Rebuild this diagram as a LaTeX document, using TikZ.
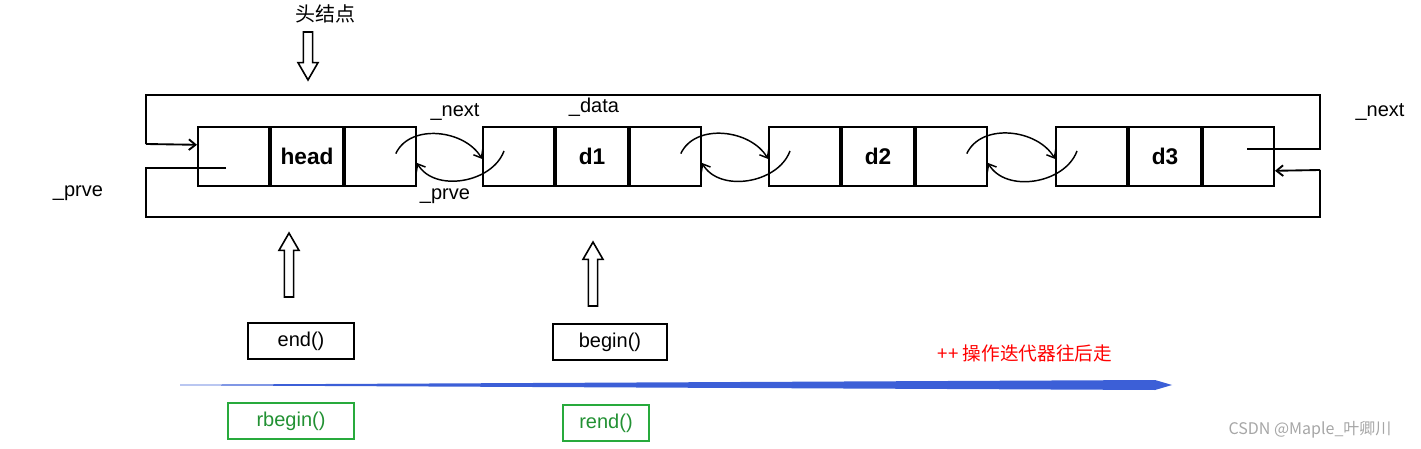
\documentclass[tikz,border=0pt]{standalone}
\usepackage{fontspec}
\setmainfont{Liberation Sans}
\newfontfamily\cjk{Noto Sans CJK SC}
\usetikzlibrary{shapes.arrows, arrows.meta, positioning}
\definecolor{flow}{RGB}{60,95,215}
\definecolor{iter}{RGB}{40,170,60}
\tikzset{
  cell/.style={draw, line width=1.4pt, minimum width=53.6pt, minimum height=44pt, inner sep=0pt, font=\bfseries\fontsize{17}{17}\selectfont},
  wire/.style={line width=1.4pt},
  link/.style={line width=1.1pt, -{Straight Barb[length=5pt,width=8pt]}},
  lbl/.style={font=\fontsize{15}{15}\selectfont},
  hollow/.style={single arrow, draw, line width=1.2pt, minimum width=15pt, single arrow head extend=2.5pt, single arrow tip angle=60, inner sep=1.5pt},
  fn/.style={draw, line width=1.3pt, font=\fontsize{15}{15}\selectfont, minimum height=27pt}
}
\begin{document}
\begin{tikzpicture}[x=0.75pt, y=-0.75pt]
\useasboundingbox (0,0) rectangle (1421,449);

% nodes of the list
\foreach \nm/\tx/\xx in {h/head/197, a/d1/482, b/d2/768, c/d3/1055} {
  \node[cell, anchor=north west] (\nm L) at (\xx,126) {};
  \node[cell, right=0pt of \nm L] (\nm M) {\tx};
  \node[cell, right=0pt of \nm M] (\nm R) {};
}

% curved links between neighbours
\foreach \p/\q in {h/a, a/b, b/c} {
  \draw[link] ([xshift=11.6pt,yshift=2pt]\p R.center) to[out=65, in=120] ([yshift=-2pt]\q L.west);
  \draw[link] ([xshift=-11pt,yshift=4pt]\q L.center) to[out=-110, in=-60] ([yshift=-5pt]\p R.east);
}

% ring wires
\coordinate (tl) at (146,95);
\coordinate (tr) at (1320,95);
\coordinate (bl) at (146,217);
\coordinate (br) at (1320,217);
\draw[wire] ([xshift=-21pt,yshift=5.6pt]cR.east) -| (tr) -- (tl) -- (146,144);
\draw[wire, -{Straight Barb[length=5pt,width=8pt]}] (146,144) -- ([yshift=8.6pt]hL.west);
\draw[wire] ([xshift=-5.6pt,yshift=-8.6pt]hL.center) -| (bl) -- (br) -- (1320,170);
\draw[wire, -{Straight Barb[length=5pt,width=8pt]}] (1320,170) -- ([yshift=-10.9pt]cR.east);

% labels
\node[lbl] (nx1) at (455,112) {\_next};
\node[lbl] (dt) at (594,107) {\_data};
\node[lbl] (pv1) at (445,196) {\_prve};
\node[lbl] (pv2) at (78,193) {\_prve};
\node[lbl] (nx2) at (1380,112) {\_next};

% head marker
\node[font=\cjk\fontsize{15}{15}\selectfont] (hd) at (325,14) {头结点};
\node[hollow, rotate=-90, minimum height=36pt] (hda) at (308,52) {};

% iterators
\node[hollow, rotate=90, minimum height=48pt] (ua) at (289,269) {};
\node[hollow, rotate=90, minimum height=48pt] (ub) at (593,278) {};
\node[fn, minimum width=80pt] (en) at (301,341) {end()};
\node[fn, minimum width=86pt] (bg) at (610,342) {begin()};
\node[fn, draw=iter, text=iter!85!black, minimum width=94pt] (rb) at (291,421) {rbegin()};
\node[fn, draw=iter, text=iter!85!black, minimum width=65pt] (re) at (606,423) {rend()};

% direction
\fill[flow] (180,384.7) -- (1155,380) -- (1172,385) -- (1155,390) -- (180,385.3) -- cycle;
\node[text=red, font=\cjk\fontsize{14}{14}\selectfont] (dir) at (1025,353) {++ 操作迭代器往后走};
\node[text=gray!70, font=\cjk\fontsize{12}{12}\selectfont] (wm) at (1310,430) {CSDN @Maple\_叶卿川};
\end{tikzpicture}
\end{document}
